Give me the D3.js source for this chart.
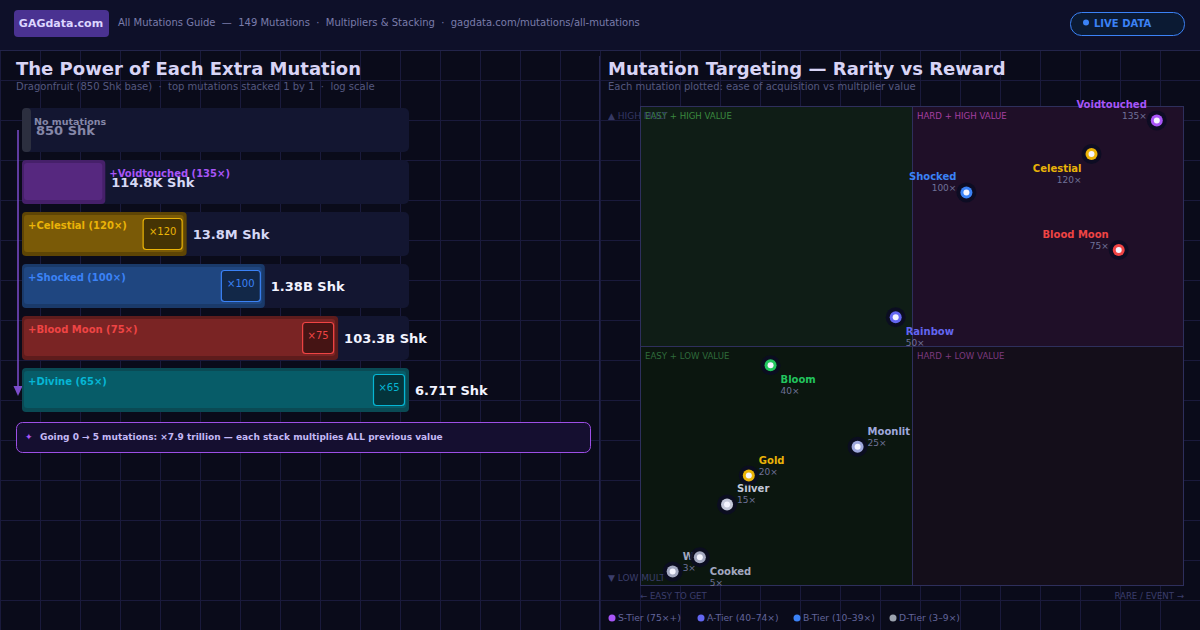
<!DOCTYPE html>
<html><head><meta charset="utf-8">
<script src="https://cdn.jsdelivr.net/npm/d3@7"></script>
<style>
html,body{margin:0;padding:0;background:#0a0b1a;}
svg{display:block;font-family:"DejaVu Sans",sans-serif;}
text{white-space:pre;}
</style></head>
<body><svg id="c" width="1200" height="630"></svg>
<script>
// ---- Data: stacking chart ----
const stackLabels = ["No mutations","+Voidtouched (135×)","+Celestial (120×)","+Shocked (100×)","+Blood Moon (75×)","+Divine (65×)"];
const stackValues = [850, 114.8e3, 13.8e6, 1.38e9, 103.3e9, 6.71e12];
const stackValueText = ["850 Shk","114.8K Shk","13.8M Shk","1.38B Shk","103.3B Shk","6.71T Shk"];
const stackBadges = [null, "×135", "×120", "×100", "×75", "×65"];
const stackColors = ["#2c2f3f","#a855f7","#eab308","#3b82f6","#ef4444","#06b6d4"];
const stackFills = ["#2c2f3f","#56287f","#7a5a07","#1f4680","#7a2424","#075c68"];
const stackEdges = ["#2a2d3c","#46206a","#5e4505","#1a3a6a","#5e1c1c","#0a4a54"];

// ---- Data: scatter ----
const mutNames = ["Voidtouched","Celestial","Shocked","Blood Moon","Rainbow","Bloom","Moonlit","Gold","Silver","Wet","Cooked"];
const mutMult = [135,120,100,75,50,40,25,20,15,3,5];
const rarityScore = [95,83,60,88,47,24,40,20,16,6,11];   // 0 = easy to get, 100 = rare/event
const valueScore = [97,90,82,70,56,46,29,23,17,3,6];     // 0 = low, 100 = high multiplier value
const mutColors = ["#a855f7","#eab308","#3b82f6","#ef4444","#6366f1","#22c55e","#9fa8dc","#eab308","#c4c8da","#a3a8c0","#a3a8c0"];
const labelSide = ["tl","bl","tl","tl","br","br","tr","tr","tr","tr","br"];

const legendLabels = ["S-Tier (75×+)","A-Tier (40–74×)","B-Tier (10–39×)","D-Tier (3–9×)"];
const legendColors = ["#a855f7","#6366f1","#3b82f6","#9ca3af"];

const svg = d3.select("#c");
const W = 1200, H = 630;

// background
svg.append("rect").attr("width",W).attr("height",H).attr("fill","#0a0b1a");
// grid
const grid = svg.append("g").attr("stroke","#1a1a3c").attr("stroke-width",1);
d3.range(0, W+1, 40).forEach(x=>grid.append("line").attr("x1",x+0.5).attr("x2",x+0.5).attr("y1",50).attr("y2",H));
d3.range(80, H+1, 40).forEach(y=>grid.append("line").attr("x1",0).attr("x2",W).attr("y1",y+0.5).attr("y2",y+0.5));

// header
svg.append("rect").attr("width",W).attr("height",50).attr("fill","#0e1029");
svg.append("line").attr("x1",0).attr("x2",W).attr("y1",50.5).attr("y2",50.5).attr("stroke","#23244a");
svg.append("rect").attr("x",14).attr("y",10).attr("width",95).attr("height",27).attr("rx",4).attr("fill","#4a3291");
svg.append("text").attr("x",61).attr("y",27).attr("text-anchor","middle").attr("font-size",11).attr("font-weight","bold").attr("fill","#dcd6ff").text("GAGdata.com");
svg.append("text").attr("x",118).attr("y",26).attr("font-size",10).attr("fill","#7a7cab")
  .text("All Mutations Guide  —  149 Mutations  ·  Multipliers & Stacking  ·  gagdata.com/mutations/all-mutations");
svg.append("rect").attr("x",1070.5).attr("y",12.5).attr("width",114).attr("height",23).attr("rx",11).attr("fill","#0b1a33").attr("stroke","#3b82f6");
svg.append("circle").attr("cx",1086).attr("cy",22.5).attr("r",3).attr("fill","#3b82f6");
svg.append("text").attr("x",1094).attr("y",26.5).attr("font-size",10).attr("font-weight","bold").attr("fill","#3b82f6").text("LIVE DATA");

// divider
svg.append("line").attr("x1",599.5).attr("x2",599.5).attr("y1",56).attr("y2",H).attr("stroke","#25264e");

// ---- Left panel ----
svg.append("text").attr("x",16).attr("y",75).attr("font-size",18).attr("font-weight","bold").attr("fill","#d8d4f5").text("The Power of Each Extra Mutation");
svg.append("text").attr("x",16).attr("y",90).attr("font-size",10).attr("fill","#55587f").text("Dragonfruit (850 Shk base)  ·  top mutations stacked 1 by 1  ·  log scale");

const barX0 = 22, trackW = 387;
const xLog = d3.scaleLog().domain([stackValues[0], stackValues[stackValues.length-1]]).range([0, trackW]);
const yBand = d3.scaleBand().domain(d3.range(stackValues.length)).range([108, 108 + 52*stackValues.length - 8]).paddingInner(8/52).paddingOuter(0);

// arrow
svg.append("line").attr("x1",18).attr("x2",18).attr("y1",130).attr("y2",388).attr("stroke","#7c4dcc").attr("stroke-width",1.5);
svg.append("path").attr("d","M13.5,386 L22.5,386 L18,396 Z").attr("fill","#7c4dcc");

stackValues.forEach((v,i)=>{
  const y = yBand(i), h = yBand.bandwidth();
  const g = svg.append("g");
  g.append("rect").attr("x",barX0).attr("y",y).attr("width",trackW).attr("height",h).attr("rx",5).attr("fill","#131631");
  const w = Math.max(9, xLog(v));
  if(i===0){
    g.append("rect").attr("x",barX0).attr("y",y).attr("width",w).attr("height",h).attr("rx",4).attr("fill",stackFills[i]);
    g.append("text").attr("x",34).attr("y",y+17).attr("font-size",9.5).attr("font-weight","bold").attr("fill","#8587a8").text(stackLabels[i]);
    g.append("text").attr("x",36).attr("y",y+27).attr("font-size",13).attr("font-weight","bold").attr("fill","#8587a8").text(stackValueText[i]);
    return;
  }
  g.append("rect").attr("x",barX0).attr("y",y).attr("width",w).attr("height",h).attr("rx",4).attr("fill",stackEdges[i]);
  g.append("rect").attr("x",barX0+2).attr("y",y+3).attr("width",w-5).attr("height",h-7).attr("rx",3).attr("fill",stackFills[i]);
  const end = barX0 + w;
  if(w < 120){
    g.append("text").attr("x",end+4).attr("y",y+17).attr("font-size",10).attr("font-weight","bold").attr("fill",stackColors[i]).text(stackLabels[i]);
    g.append("text").attr("x",end+6).attr("y",y+27).attr("font-size",13).attr("font-weight","bold").attr("fill","#d6d8f5").text(stackValueText[i]);
  } else {
    g.append("text").attr("x",28).attr("y",y+17).attr("font-size",10).attr("font-weight","bold").attr("fill",stackColors[i]).text(stackLabels[i]);
    const bw = stackBadges[i].length > 3 ? 40 : 32;
    const bx = end - 4 - bw;
    g.append("rect").attr("x",bx+0.5).attr("y",y+6.5).attr("width",bw-1).attr("height",h-13).attr("rx",3)
      .attr("fill",d3.color(stackFills[i]).darker(1.6)).attr("stroke",stackColors[i]).attr("stroke-width",1.2);
    g.append("text").attr("x",bx+bw/2).attr("y",y+h/2+0.5).attr("text-anchor","middle").attr("font-size",10).attr("fill",stackColors[i]).text(stackBadges[i]);
    g.append("text").attr("x",end+6).attr("y",y+h/2+5).attr("font-size",13).attr("font-weight","bold").attr("fill", i<3 ? "#d6d8f5" : "#f2f3ff").text(stackValueText[i]);
  }
});

// note box
svg.append("rect").attr("x",16.5).attr("y",422.5).attr("width",574).attr("height",30).attr("rx",6).attr("fill","#150f30").attr("stroke","#9d4fe6");
svg.append("text").attr("x",25).attr("y",440).attr("font-size",9).attr("fill","#a855f7").text("✦");
svg.append("text").attr("x",40).attr("y",439.5).attr("font-size",9).attr("font-weight","bold").attr("fill","#c4b8f5")
  .text("Going 0 → 5 mutations: ×7.9 trillion — each stack multiplies ALL previous value");

// ---- Right panel ----
svg.append("text").attr("x",608).attr("y",75).attr("font-size",18).attr("font-weight","bold").attr("fill","#d8d4f5").text("Mutation Targeting — Rarity vs Reward");
svg.append("text").attr("x",608).attr("y",90).attr("font-size",10).attr("fill","#55587f").text("Each mutation plotted: ease of acquisition vs multiplier value");

const px0 = 640, px1 = 1184, py0 = 106, py1 = 586;
const xs = d3.scaleLinear().domain([0,100]).range([px0, px1]);
const ys = d3.scaleLinear().domain([0,100]).range([py1, py0]);

const quads = [
  {x0:0,x1:50,y0:50,y1:100,fill:"#0f1d16",label:"EASY + HIGH VALUE",lc:"#3b8a3f"},
  {x0:50,x1:100,y0:50,y1:100,fill:"#1f0f28",label:"HARD + HIGH VALUE",lc:"#a53fa0"},
  {x0:0,x1:50,y0:0,y1:50,fill:"#0b160f",label:"EASY + LOW VALUE",lc:"#2f6b3b"},
  {x0:50,x1:100,y0:0,y1:50,fill:"#140e1a",label:"HARD + LOW VALUE",lc:"#7c3a7e"}
];
quads.forEach(q=>{
  svg.append("rect").attr("x",xs(q.x0)).attr("y",ys(q.y1)).attr("width",xs(q.x1)-xs(q.x0)).attr("height",ys(q.y0)-ys(q.y1)).attr("fill",q.fill);
  svg.append("text").attr("x",xs(q.x0)+5).attr("y",ys(q.y1)+13).attr("font-size",8.6).attr("fill",q.lc).text(q.label);
});
svg.append("rect").attr("x",px0+0.5).attr("y",py0+0.5).attr("width",px1-px0-1).attr("height",py1-py0-1).attr("fill","none").attr("stroke","#2e2f5c");
svg.append("line").attr("x1",xs(50)+0.5).attr("x2",xs(50)+0.5).attr("y1",py0).attr("y2",py1).attr("stroke","#2e2f5c");
svg.append("line").attr("x1",px0).attr("x2",px1).attr("y1",ys(50)+0.5).attr("y2",ys(50)+0.5).attr("stroke","#2e2f5c");

svg.append("text").attr("x",608).attr("y",119).attr("font-size",9).attr("fill","#3b3e6c").attr("opacity",0.9).text("▲ HIGH MULT");
svg.append("text").attr("x",608).attr("y",581).attr("font-size",9).attr("fill","#3b3e6c").text("▼ LOW MULT");

svg.append("text").attr("x",px0).attr("y",599).attr("font-size",8.6).attr("fill","#3b3e6c").text("← EASY TO GET");
svg.append("text").attr("x",px1).attr("y",599).attr("text-anchor","end").attr("font-size",8.6).attr("fill","#3b3e6c").text("RARE / EVENT →");

// labels first
mutNames.forEach((n,i)=>{
  const cx = xs(rarityScore[i]), cy = ys(valueScore[i]);
  const side = labelSide[i];
  const right = side[1]==="r";
  const top = side[0]==="t";
  const tx = right ? cx+10 : cx-10;
  const anchor = right ? "start" : "end";
  const ny = top ? cy-12 : cy+18;
  svg.append("text").attr("x",tx).attr("y",ny).attr("text-anchor",anchor).attr("font-size",10).attr("font-weight","bold").attr("fill",mutColors[i]).text(n);
  svg.append("text").attr("x",tx).attr("y",ny+11).attr("text-anchor",anchor).attr("font-size",9).attr("fill","#6f7299").text(mutMult[i]+"×");
});
// points
mutNames.forEach((n,i)=>{
  const cx = xs(rarityScore[i]), cy = ys(valueScore[i]);
  svg.append("circle").attr("cx",cx).attr("cy",cy).attr("r",10).attr("fill","#0b0c22").attr("opacity",0.9);
  svg.append("circle").attr("cx",cx).attr("cy",cy).attr("r",6).attr("fill",mutColors[i]);
  svg.append("circle").attr("cx",cx).attr("cy",cy).attr("r",3).attr("fill","#f4f4ff");
});

// legend
let lx = 612;
const lgap = [0,89,96,96];
legendLabels.forEach((l,i)=>{
  lx += lgap[i];
  svg.append("circle").attr("cx",lx).attr("cy",618).attr("r",3.5).attr("fill",legendColors[i]);
  svg.append("text").attr("x",lx+6).attr("y",621).attr("font-size",9.2).attr("fill","#62659a").text(l);
});
</script></body></html>
